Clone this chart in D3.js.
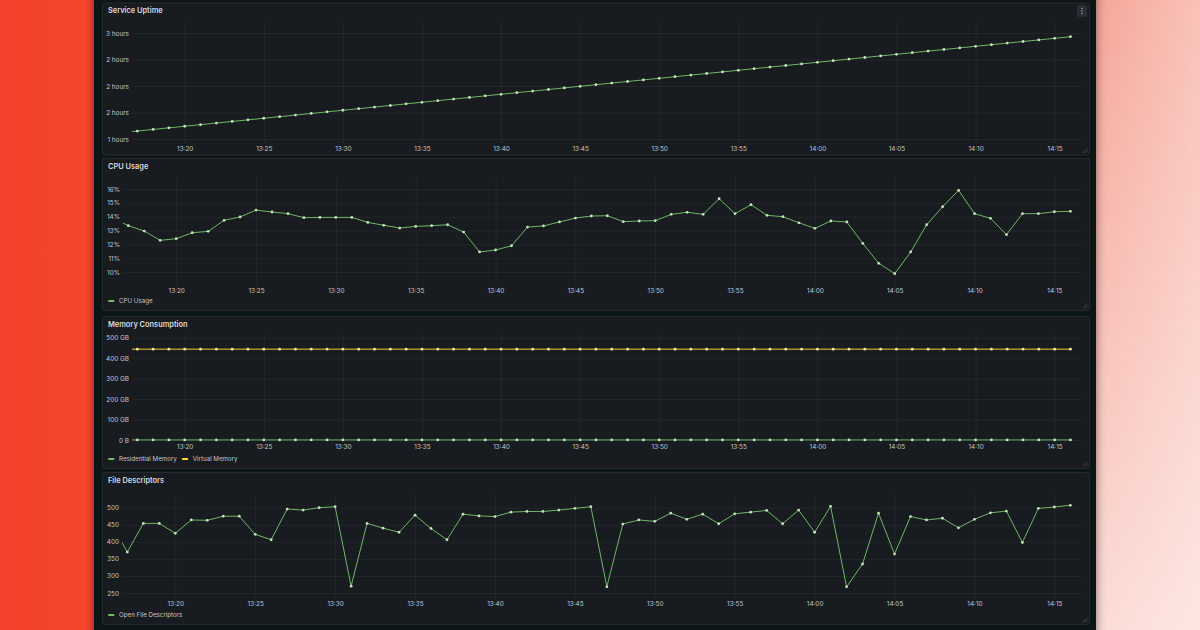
<!DOCTYPE html>
<html>
<head>
<meta charset="utf-8">
<script src="https://cdn.jsdelivr.net/npm/d3@7"></script>
<style>
  html, body { margin: 0; padding: 0; background: #f4452b; }
  svg { display: block; font-family: Inter, "Noto Sans", sans-serif; }
</style>
</head>
<body>
<svg id="chart" width="1200" height="630"></svg>
<script>
// Sample times (one per minute); the first one sits just left of the visible window
const minutes = [
  "13:16", "13:17", "13:18", "13:19", "13:20", "13:21", "13:22", "13:23", "13:24", "13:25",
  "13:26", "13:27", "13:28", "13:29", "13:30", "13:31", "13:32", "13:33", "13:34", "13:35",
  "13:36", "13:37", "13:38", "13:39", "13:40", "13:41", "13:42", "13:43", "13:44", "13:45",
  "13:46", "13:47", "13:48", "13:49", "13:50", "13:51", "13:52", "13:53", "13:54", "13:55",
  "13:56", "13:57", "13:58", "13:59", "14:00", "14:01", "14:02", "14:03", "14:04", "14:05",
  "14:06", "14:07", "14:08", "14:09", "14:10", "14:11", "14:12", "14:13", "14:14", "14:15",
  "14:16"
];

// Service uptime, seconds
const uptimeSeconds = [
  5088, 5160, 5232, 5305, 5377, 5450, 5522, 5594, 5667, 5739,
  5812, 5884, 5956, 6029, 6101, 6174, 6246, 6318, 6391, 6463,
  6536, 6608, 6680, 6753, 6825, 6898, 6970, 7042, 7115, 7187,
  7260, 7332, 7404, 7477, 7549, 7622, 7694, 7766, 7839, 7911,
  7984, 8056, 8128, 8201, 8273, 8346, 8418, 8490, 8563, 8635,
  8708, 8780, 8852, 8925, 8997, 9070, 9142, 9214, 9287, 9359,
  9432
];

// CPU usage, percent
const cpuPercent = [
  13.9, 13.35, 12.96, 12.29, 12.41, 12.84, 12.94, 13.74, 13.98, 14.48,
  14.34, 14.22, 13.93, 13.95, 13.95, 13.95, 13.59, 13.38, 13.18, 13.3,
  13.35, 13.42, 12.89, 11.45, 11.59, 11.9, 13.25, 13.33, 13.62, 13.9,
  14.05, 14.07, 13.64, 13.69, 13.71, 14.17, 14.32, 14.17, 15.3, 14.22,
  14.87, 14.1, 14.0, 13.56, 13.16, 13.69, 13.62, 12.07, 10.63, 9.88,
  11.45, 13.42, 14.72, 15.91, 14.22, 13.88, 12.7, 14.22, 14.22, 14.36,
  14.39
];

// Memory, GB
const residentialMemoryGB = [
  0.3, 0.3, 0.3, 0.3, 0.3, 0.3, 0.3, 0.3, 0.3, 0.3,
  0.3, 0.3, 0.3, 0.3, 0.3, 0.3, 0.3, 0.3, 0.3, 0.3,
  0.3, 0.3, 0.3, 0.3, 0.3, 0.3, 0.3, 0.3, 0.3, 0.3,
  0.3, 0.3, 0.3, 0.3, 0.3, 0.3, 0.3, 0.3, 0.3, 0.3,
  0.3, 0.3, 0.3, 0.3, 0.3, 0.3, 0.3, 0.3, 0.3, 0.3,
  0.3, 0.3, 0.3, 0.3, 0.3, 0.3, 0.3, 0.3, 0.3, 0.3,
  0.3
];
const virtualMemoryGB = [
  444, 444, 444, 444, 444, 444, 444, 444, 444, 444,
  444, 444, 444, 444, 444, 444, 444, 444, 444, 444,
  444, 444, 444, 444, 444, 444, 444, 444, 444, 444,
  444, 444, 444, 444, 444, 444, 444, 444, 444, 444,
  444, 444, 444, 444, 444, 444, 444, 444, 444, 444,
  444, 444, 444, 444, 444, 444, 444, 444, 444, 444,
  444
];

// Open file descriptors
const openFileDescriptors = [
  455, 370, 454, 454, 425, 464, 463, 475, 475, 422,
  406, 496, 493, 500, 503, 270, 454, 440, 428, 478,
  439, 406, 481, 476, 474, 487, 489, 489, 493, 498,
  503, 268, 452, 464, 460, 484, 466, 481, 453, 482,
  487, 492, 453, 493, 428, 504, 268, 335, 484, 364,
  474, 464, 469, 441, 466, 485, 490, 398, 498, 502,
  507
];

// Tick values
const xTickLabels = ["13:20", "13:25", "13:30", "13:35", "13:40", "13:45",
  "13:50", "13:55", "14:00", "14:05", "14:10", "14:15"];
const uptimeTicks = [4800, 6000, 7200, 8400, 9600];
const cpuTicks = [10, 11, 12, 13, 14, 15, 16];
const memoryTicks = [0, 100, 200, 300, 400, 500];
const fdTicks = [250, 300, 350, 400, 450, 500];

const GREEN = "#73bf69";
const YELLOW = "#fade2a";
const pointFill = { [GREEN]: "#c2e3bc", [YELLOW]: "#fbec98" };

const parseTime = d3.timeParse("%H:%M");
const times = minutes.map(parseTime);
const xDomain = [
  d3.timeSecond.offset(parseTime("13:16"), 40),
  d3.timeSecond.offset(parseTime("14:16"), 40)
];

const svg = d3.select("#chart");
const defs = svg.append("defs");

// Page background: red on the left, pink on the right, lighter towards the bottom
const bg = defs.append("linearGradient").attr("id", "bg")
  .attr("x1", 0).attr("y1", 0).attr("x2", 1).attr("y2", 0);
bg.append("stop").attr("offset", 0).attr("stop-color", "#f3402a");
bg.append("stop").attr("offset", 0.08).attr("stop-color", "#f5472d");
bg.append("stop").attr("offset", 0.92).attr("stop-color", "#f6a89b");
bg.append("stop").attr("offset", 1).attr("stop-color", "#f9c2b8");
svg.append("rect").attr("width", 1200).attr("height", 630).attr("fill", "url(#bg)");

const fade = defs.append("linearGradient").attr("id", "fade")
  .attr("x1", 0).attr("y1", 0).attr("x2", 0).attr("y2", 1);
fade.append("stop").attr("offset", 0).attr("stop-color", "#fff").attr("stop-opacity", 0);
fade.append("stop").attr("offset", 1).attr("stop-color", "#fff").attr("stop-opacity", 0.6);
svg.append("rect").attr("x", 1096).attr("width", 104).attr("height", 630).attr("fill", "url(#fade)");

const shadow = defs.append("filter").attr("id", "shadow")
  .attr("x", -0.1).attr("y", -0.1).attr("width", 1.2).attr("height", 1.2);
shadow.append("feDropShadow").attr("dx", 0).attr("dy", 0)
  .attr("stdDeviation", 5).attr("flood-color", "#000").attr("flood-opacity", 0.5);

// Dashboard window
svg.append("rect")
  .attr("x", 94).attr("y", -10).attr("width", 1002).attr("height", 650)
  .attr("fill", "#111217").attr("filter", "url(#shadow)");

const panels = [
  {
    title: "Service Uptime", top: 3, bottom: 155,
    plot: { left: 132, right: 1081, top: 22, bottom: 143 },
    yDomain: [4619, 10098], yTicks: uptimeTicks,
    yFormat: (v) => `${Math.round(v / 3600)} hours`,
    series: [{ name: "Uptime", values: uptimeSeconds, color: GREEN }],
    legend: false, menu: true
  },
  {
    title: "CPU Usage", top: 158.5, bottom: 310.5,
    plot: { left: 123, right: 1081, top: 178, bottom: 285 },
    yDomain: [9.06, 16.8], yTicks: cpuTicks,
    yFormat: (v) => `${v}%`,
    series: [{ name: "CPU Usage", values: cpuPercent, color: GREEN }],
    legend: true
  },
  {
    title: "Memory Consumption", top: 316.5, bottom: 468.5,
    plot: { left: 132, right: 1081, top: 333, bottom: 441 },
    yDomain: [-4.9, 523], yTicks: memoryTicks,
    yFormat: (v) => (v === 0 ? "0 B" : `${v} GB`),
    series: [
      { name: "Residential Memory", values: residentialMemoryGB, color: GREEN },
      { name: "Virtual Memory", values: virtualMemoryGB, color: YELLOW }
    ],
    legend: true
  },
  {
    title: "File Descriptors", top: 472.5, bottom: 624.5,
    plot: { left: 122, right: 1081, top: 495, bottom: 598 },
    yDomain: [235.3, 537.2], yTicks: fdTicks,
    yFormat: (v) => `${v}`,
    series: [{ name: "Open File Descriptors", values: openFileDescriptors, color: GREEN }],
    legend: true
  }
];

const panelLeft = 102.5;
const panelRight = 1089.5;
const textColor = "#c4c6cf";
const gridColor = "rgba(204, 204, 220, 0.06)";

panels.forEach((p, pi) => {
  const g = svg.append("g");

  g.append("rect")
    .attr("x", panelLeft).attr("y", p.top)
    .attr("width", panelRight - panelLeft).attr("height", p.bottom - p.top)
    .attr("rx", 2).attr("fill", "#181b1f")
    .attr("stroke", "#26292f").attr("stroke-width", 1);

  g.append("text")
    .attr("x", 108).attr("y", p.top + 8)
    .attr("dominant-baseline", "middle")
    .attr("fill", "#d8d9de").attr("font-size", 7.4).attr("font-weight", 600)
    .text(p.title);

  const x = d3.scaleTime().domain(xDomain).range([p.plot.left, p.plot.right]);
  const y = d3.scaleLinear().domain(p.yDomain).range([p.plot.bottom, p.plot.top]);
  const xTicks = xTickLabels.map(parseTime);

  // Grid
  g.append("g")
    .attr("transform", `translate(0, ${p.plot.bottom})`)
    .call(d3.axisBottom(x).tickValues(xTicks).tickFormat("")
      .tickSize(-(p.plot.bottom - p.plot.top)))
    .call((a) => a.select(".domain").remove())
    .call((a) => a.selectAll("line").attr("stroke", gridColor));
  g.append("g")
    .attr("transform", `translate(${p.plot.left}, 0)`)
    .call(d3.axisLeft(y).tickValues(p.yTicks).tickFormat("")
      .tickSize(-(p.plot.right - p.plot.left)))
    .call((a) => a.select(".domain").remove())
    .call((a) => a.selectAll("line").attr("stroke", gridColor));

  // Axis labels
  g.append("g")
    .attr("transform", `translate(0, ${p.plot.bottom})`)
    .call(d3.axisBottom(x).tickValues(xTicks).tickFormat(d3.timeFormat("%H:%M"))
      .tickSize(0).tickPadding(3))
    .call((a) => a.select(".domain").remove())
    .call((a) => a.selectAll("text")
      .attr("fill", textColor).attr("font-size", 6.4)
      .attr("font-family", "Inter, 'Noto Sans', sans-serif"));
  g.append("g")
    .attr("transform", `translate(${p.plot.left}, 0)`)
    .call(d3.axisLeft(y).tickValues(p.yTicks).tickFormat(p.yFormat)
      .tickSize(0).tickPadding(3))
    .call((a) => a.select(".domain").remove())
    .call((a) => a.selectAll("text")
      .attr("fill", textColor).attr("font-size", 6.4)
      .attr("font-family", "Inter, 'Noto Sans', sans-serif"));

  // Clip to plot area
  const clipId = `clip${pi}`;
  defs.append("clipPath").attr("id", clipId)
    .append("rect")
    .attr("x", p.plot.left).attr("y", p.plot.top - 4)
    .attr("width", p.plot.right - p.plot.left)
    .attr("height", p.plot.bottom - p.plot.top + 8);

  const plot = g.append("g").attr("clip-path", `url(#${clipId})`);
  const line = d3.line().x((d, i) => x(times[i])).y((d) => y(d));

  p.series.forEach((s) => {
    plot.append("path")
      .datum(s.values)
      .attr("fill", "none")
      .attr("stroke", s.color)
      .attr("stroke-opacity", 0.95)
      .attr("stroke-width", 1)
      .attr("d", line);
    plot.append("g")
      .selectAll("circle")
      .data(s.values)
      .join("circle")
      .attr("cx", (d, i) => x(times[i]))
      .attr("cy", (d) => y(d))
      .attr("r", 1.4)
      .attr("fill", pointFill[s.color]);
  });

  // Legend
  if (p.legend) {
    const lg = g.append("g").attr("transform", `translate(108, ${p.bottom - 9.5})`);
    let offset = 0;
    p.series.forEach((s) => {
      lg.append("rect")
        .attr("x", offset).attr("y", -1)
        .attr("width", 6.5).attr("height", 2).attr("rx", 1)
        .attr("fill", s.color);
      const t = lg.append("text")
        .attr("x", offset + 11).attr("y", 0)
        .attr("dominant-baseline", "middle")
        .attr("fill", textColor).attr("font-size", 6.2)
        .text(s.name);
      offset += 11 + t.node().getComputedTextLength() + 5;
    });
  }

  // Resize handle in the bottom right corner
  const cx = panelRight - 2, cy = p.bottom - 2;
  g.append("path")
    .attr("d", `M${cx - 5},${cy} L${cx},${cy - 5} M${cx - 2.5},${cy} L${cx},${cy - 2.5}`)
    .attr("stroke", "#4a4d55").attr("stroke-width", 0.8);

  // Panel menu button
  if (p.menu) {
    g.append("rect")
      .attr("x", 1077).attr("y", 5).attr("width", 10).attr("height", 12)
      .attr("rx", 1.5).attr("fill", "#2a2d33");
    [8.5, 11, 13.5].forEach((dy) => {
      g.append("circle").attr("cx", 1082).attr("cy", dy).attr("r", 0.7).attr("fill", "#b0b3bb");
    });
  }
});
</script>
</body>
</html>
